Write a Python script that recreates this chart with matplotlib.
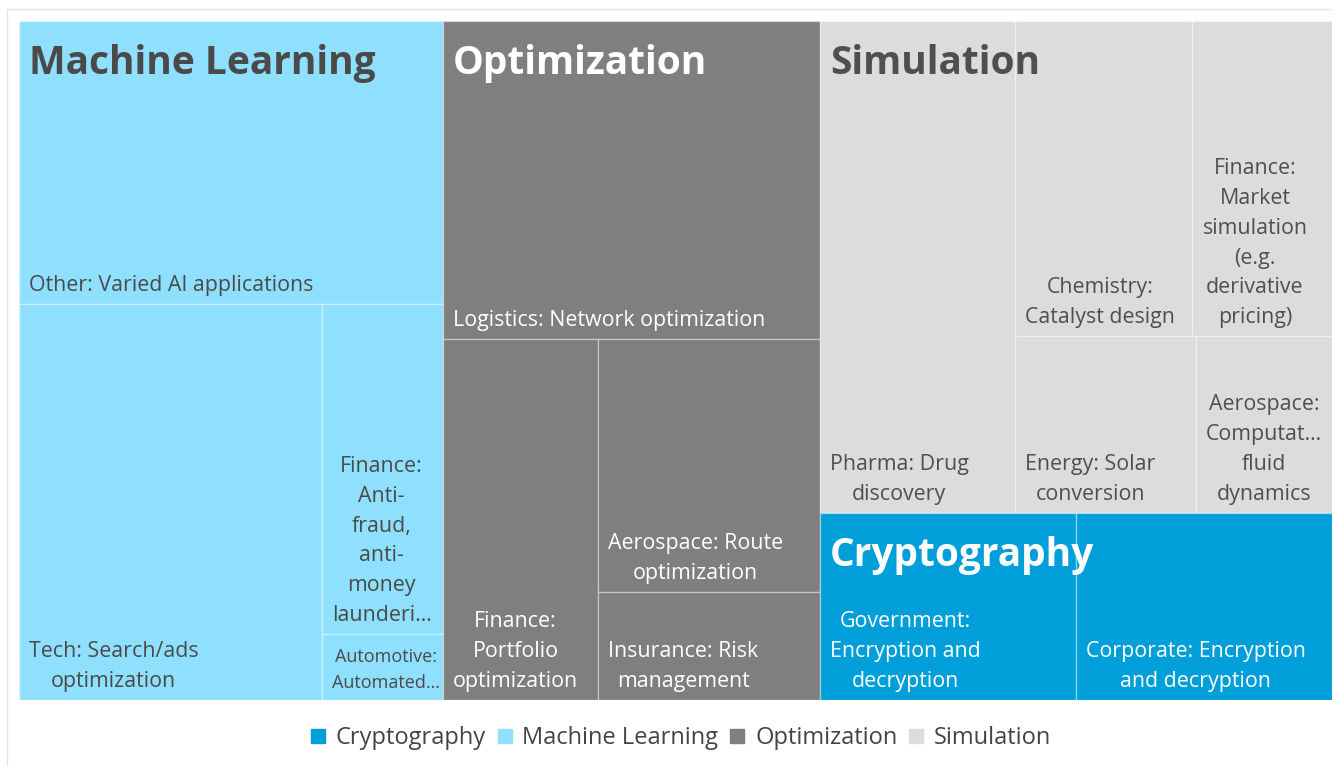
import matplotlib
matplotlib.use('Agg')
import matplotlib.pyplot as plt
from matplotlib.patches import Rectangle
from matplotlib.lines import Line2D
import numpy as np

plt.rcParams['font.family'] = ['Open Sans', 'DejaVu Sans']

# Top level groups, largest first
groups = ['Machine Learning', 'Optimization', 'Simulation', 'Cryptography']
group_colors = ['#8fe0fe', '#7f7f7f', '#dcdcdc', '#009fda']
group_text_colors = ['#4a4a4a', '#ffffff', '#4f4f4f', '#ffffff']

# Leaves of each group (labels wrapped as they show in the chart)
ml_labels = ['Other: Varied AI applications',
             'Tech: Search/ads\noptimization',
             'Finance:\nAnti-\nfraud,\nanti-\nmoney\nlaunderi…',
             'Automotive:\nAutomated…']
ml_values = [15, 15, 5, 1]

opt_labels = ['Logistics: Network optimization',
              'Finance:\nPortfolio\noptimization',
              'Aerospace: Route\noptimization',
              'Insurance: Risk\nmanagement']
opt_values = [15, 7, 7, 3]

sim_labels = ['Pharma: Drug\ndiscovery',
              'Chemistry:\nCatalyst design',
              'Finance:\nMarket\nsimulation\n(e.g.\nderivative\npricing)',
              'Energy: Solar\nconversion',
              'Aerospace:\nComputat…\nfluid\ndynamics']
sim_values = [12, 7, 5.5, 4, 3]

crypto_labels = ['Government:\nEncryption and\ndecryption',
                 'Corporate: Encryption\nand decryption']
crypto_values = [6, 6]

legend_order = ['Cryptography', 'Machine Learning', 'Optimization', 'Simulation']

TARGET_SHAPE = 0.8  # preferred width/height of a cell


# Score of a strip of cells: how far its worst cell is from the preferred shape
def row_score(areas, side, across):
    thick = sum(areas) / side
    worst = 0
    for a in areas:
        length = a / thick
        shape = length / thick if across else thick / length
        worst = max(worst, abs(np.log(shape / TARGET_SHAPE)))
    return worst


# Squarified treemap layout, strips laid along the shorter side
def squarify(values, x, y, w, h):
    areas = [v * w * h / sum(values) for v in values]
    rects = []
    i = 0
    while i < len(areas):
        across = w <= h
        side = w if across else h
        j = i + 1
        best = row_score(areas[i:j], side, across)
        while j < len(areas):
            s = row_score(areas[i:j + 1], side, across)
            if s > best:
                break
            best = s
            j += 1
        row = areas[i:j]
        thick = sum(row) / side
        pos = x if across else y
        for a in row:
            length = a / thick
            if across:
                rects.append((pos, y, length, thick))
            else:
                rects.append((x, pos, thick, length))
            pos += length
        if across:
            y += thick
            h -= thick
        else:
            x += thick
            w -= thick
        i = j
    return rects


def main():
    fig = plt.figure(figsize=(13.32, 7.66), dpi=100)

    # light frame round the visual
    fig.add_artist(Rectangle((7 / 1332, -0.01), 1.02, (766 - 9) / 766 + 0.01,
                             transform=fig.transFigure, fill=False,
                             edgecolor='#e2e2e2', lw=1))

    W, H = 1313, 679  # plot area in pixels
    ax = fig.add_axes([19 / 1332, 66 / 766, W / 1332, H / 766])
    ax.set_xlim(0, W)
    ax.set_ylim(H, 0)
    ax.axis('off')

    leaf_labels = [ml_labels, opt_labels, sim_labels, crypto_labels]
    leaf_values = [ml_values, opt_values, sim_values, crypto_values]
    group_values = [sum(v) for v in leaf_values]

    group_rects = squarify(group_values, 0, 0, W, H)
    for g, (gx, gy, gw, gh) in enumerate(group_rects):
        color = group_colors[g]
        tcolor = group_text_colors[g]
        cells = squarify(leaf_values[g], gx, gy, gw, gh)
        for (x, y, w, h), label in zip(cells, leaf_labels[g]):
            ax.add_patch(Rectangle((x, y), w, h, facecolor=color,
                                   edgecolor=(1, 1, 1, 0.35), lw=1))
            small = h < 80
            ax.text(x + 10, y + h - 8, label, ha='left', va='bottom',
                    multialignment='center', fontsize=13 if small else 15.4,
                    color=tcolor, linespacing=1.55)
        ax.text(gx + 10, gy + 53, groups[g], ha='left', va='baseline',
                fontsize=28, fontweight='bold', color=tcolor)

    # legend below the treemap
    handles = [Line2D([], [], marker='s', ls='', ms=9.5,
                      color=group_colors[groups.index(n)]) for n in legend_order]
    fig.legend(handles, legend_order, loc='center', ncol=4, frameon=False,
               bbox_to_anchor=(681 / 1332, 1 - 738 / 766), fontsize=17,
               handlelength=0.6, handletextpad=0.45, columnspacing=0.5,
               labelcolor='#444444')

    fig.savefig('out.png', dpi=100)


if __name__ == "__main__":
    main()
